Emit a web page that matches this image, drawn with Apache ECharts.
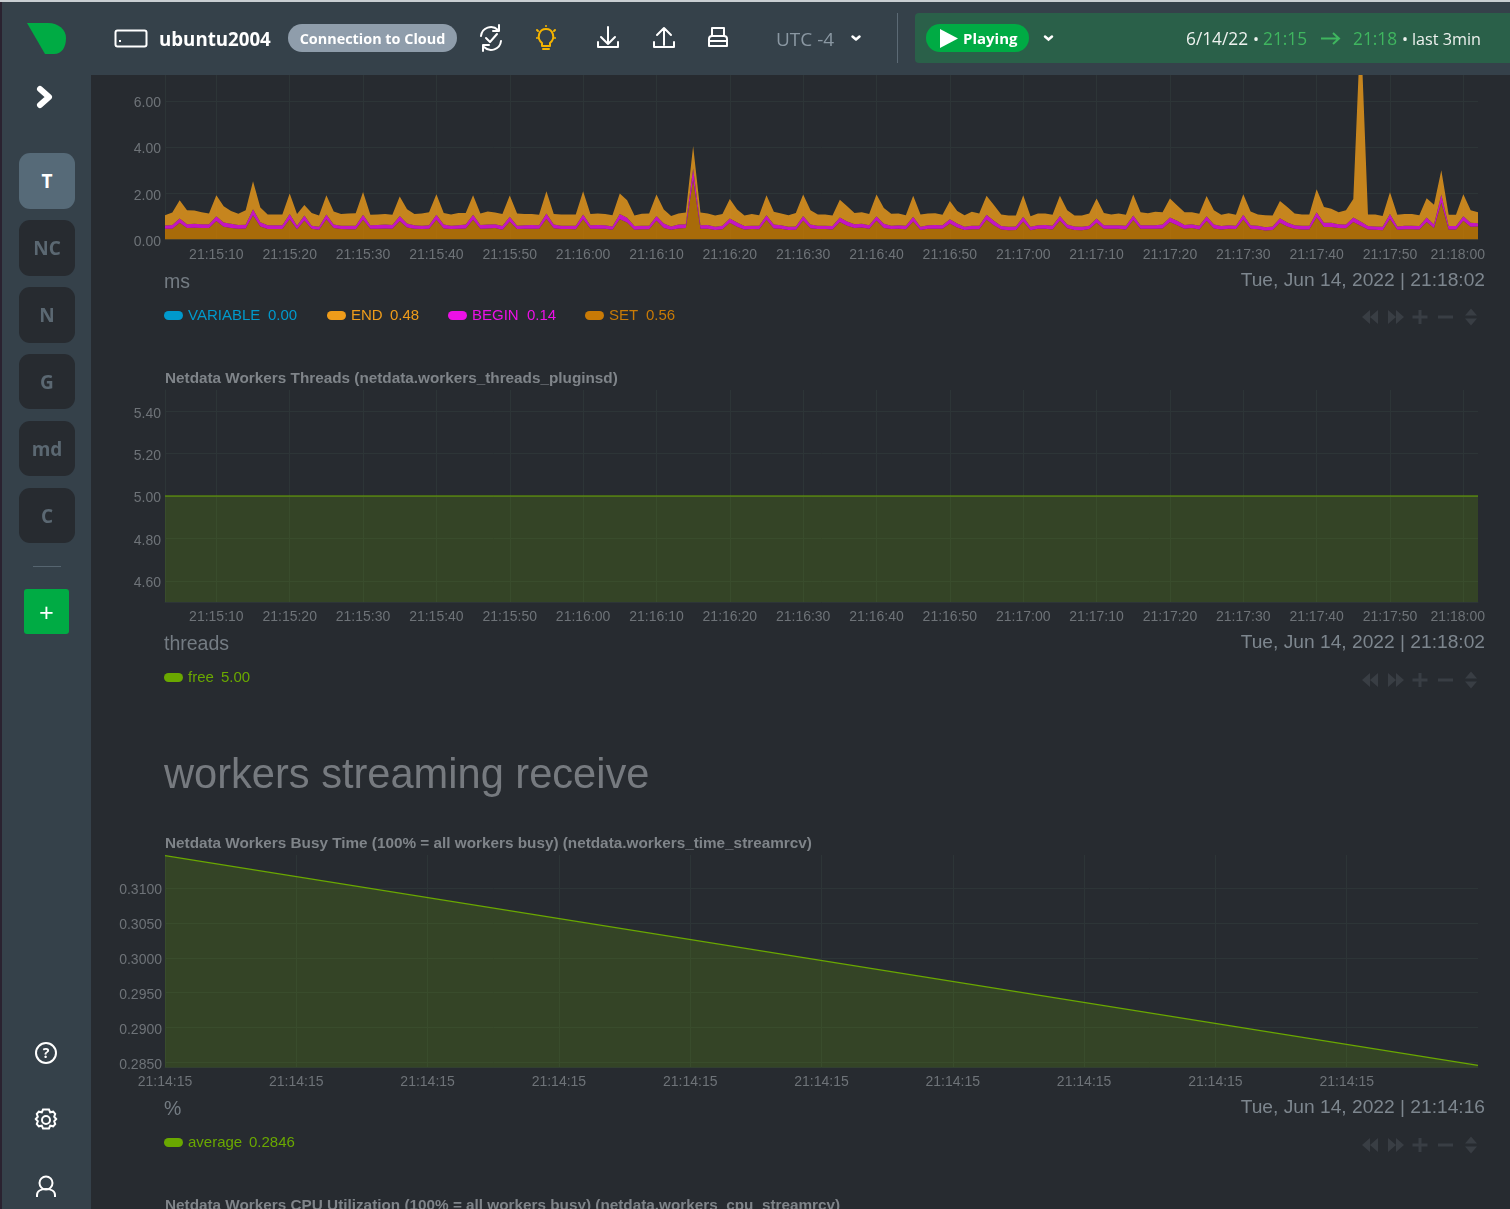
<!DOCTYPE html>
<html>
<head>
<meta charset="utf-8">
<title>ubuntu2004</title>
<script src="https://cdn.jsdelivr.net/npm/echarts@6/dist/echarts.min.js"></script>
<style>
html, body { margin: 0; padding: 0; width: 1510px; height: 1209px; overflow: hidden; background: #272b30; font-family: "Liberation Sans", Arial, sans-serif; }
.abs { position: absolute; white-space: nowrap; }
#chart { position: absolute; left: 0; top: 0; width: 1510px; height: 1209px; }
#header { position: absolute; left: 0; top: 0; width: 1510px; height: 75px; background: #35414a; }
#sidebar { position: absolute; left: 0; top: 0; width: 91px; height: 1209px; background: #35414a; }
#edge { position: absolute; left: 0; top: 0; width: 2px; height: 1209px; background: #2a2230; }
#topline { position: absolute; left: 0; top: 0; width: 1510px; height: 2px; background: #c9ced2; }
.ui { font-family: "Open Sans", "Noto Sans", sans-serif; }
.navbtn { position: absolute; left: 19px; width: 56px; height: 55px; border-radius: 11px; background: #272b30; color: #5b6872; font: bold 19px/57px "Open Sans", sans-serif; text-align: center; }
.title { position: absolute; left: 165px; font: bold 15.3px/20px "Liberation Sans", sans-serif; color: #7f8489; white-space: nowrap; }
.unit { position: absolute; left: 164px; font: 19.5px/24px "Liberation Sans", sans-serif; color: #747c83; }
.when { position: absolute; right: 25px; font: 19.2px/24px "Liberation Sans", sans-serif; color: #7d868e; white-space: nowrap; }
.legend { position: absolute; left: 164px; height: 20px; font: 15px/20px "Liberation Sans", sans-serif; white-space: nowrap; }
.legend i { position: absolute; top: 6px; width: 19px; height: 9px; border-radius: 5px; }
.legend span { position: absolute; top: 0; }
svg { position: absolute; overflow: visible; }
</style>
</head>
<body>
<div id="chart"></div>

<div class="title" style="top:368px">Netdata Workers Threads (netdata.workers_threads_pluginsd)</div>
<div class="title" style="top:833px">Netdata Workers Busy Time (100% = all workers busy) (netdata.workers_time_streamrcv)</div>
<div class="title" style="top:1195px">Netdata Workers CPU Utilization (100% = all workers busy) (netdata.workers_cpu_streamrcv)</div>
<div class="abs" style="left:164px;top:748px;font-size:41.6px;line-height:52px;color:#767a7f">workers streaming receive</div>

<div class="unit" style="top:269px">ms</div>
<div class="unit" style="top:631px">threads</div>
<div class="unit" style="top:1096px">%</div>
<div class="when" style="top:268px">Tue, Jun 14, 2022 | 21:18:02</div>
<div class="when" style="top:630px">Tue, Jun 14, 2022 | 21:18:02</div>
<div class="when" style="top:1095px">Tue, Jun 14, 2022 | 21:14:16</div>
<div id="legends"></div>
<div id="controls"></div>

<div id="header"></div>
<div id="sidebar"></div>
<div id="edge"></div>
<div id="topline"></div>

<!-- logo + sidebar -->
<svg style="left:0;top:0" width="1" height="1">
  <path d="M27 23 H48 C59 23 66 30 66 38 C66 47 62 54 54 54 H45 Z" fill="#00ab44"/>
  <polyline points="40,89 49,97 40,105" fill="none" stroke="#fff" stroke-width="6" stroke-linejoin="round" stroke-linecap="round"/>
  <line x1="33" y1="566.5" x2="61" y2="566.5" stroke="#566570"/>
  <g fill="none" stroke="#fff" stroke-width="2">
    <circle cx="46" cy="1053" r="10"/>
    <circle cx="46" cy="1120" r="4"/>
    <path d="M46 1109.5 l3 0 l1.2 2.8 l3 -.6 l2 2.2 l-1 2.8 l2 2.3 l-2 2.3 l1 2.8 l-2 2.2 l-3 -.6 l-1.2 2.8 h-6 l-1.2 -2.8 l-3 .6 l-2 -2.2 l1 -2.8 l-2 -2.3 l2 -2.3 l-1 -2.8 l2 -2.2 l3 .6 l1.2 -2.8 z"/>
    <circle cx="46" cy="1183" r="6.5"/>
    <path d="M37 1197 v-2 c0 -4 4 -6 9 -6 s9 2 9 6 v2"/>
  </g>
  <text x="46" y="1058" text-anchor="middle" fill="#fff" font-family="Open Sans" font-weight="700" font-size="14">?</text>
</svg>
<div class="navbtn" style="top:153px;height:56px;line-height:56px;background:#566a78;color:#fff">T</div>
<div class="navbtn" style="top:220px;height:56px;line-height:56px">NC</div>
<div class="navbtn" style="top:287px;height:56px;line-height:56px">N</div>
<div class="navbtn" style="top:354px">G</div>
<div class="navbtn" style="top:421px">md</div>
<div class="navbtn" style="top:488px">C</div>
<div class="abs" style="left:24px;top:589px;width:45px;height:45px;border-radius:3px;background:#00ab44;color:#fff;font:26px/46px 'Open Sans',sans-serif;text-align:center">+</div>

<!-- top bar -->
<svg style="left:0;top:0" width="1" height="1">
  <rect x="115.5" y="30.5" width="31" height="16" rx="2" fill="none" stroke="#fff" stroke-width="2"/>
  <rect x="119" y="40" width="2" height="2" fill="#fff"/>
  <g fill="none" stroke="#fff" stroke-width="2" stroke-linecap="round" stroke-linejoin="round">
    <path d="M481 36 a10 10 0 0 1 17 -6 M501 41 a10 10 0 0 1 -17 6"/>
    <path d="M499 25 v6 h-6 M483 51 v-6 h6"/>
    <path d="M486 38 l4 4 l7 -8"/>
    <path d="M608 27 v17 M601 37 l7 7 l7 -7 M598 42 v5 h20 v-5"/>
    <path d="M664 45 v-17 M657 35 l7 -7 l7 7 M654 42 v5 h20 v-5"/>
    <path d="M712 36 v-8 h12 v8 M709 46 v-7 a3 3 0 0 1 3 -3 h12 a3 3 0 0 1 3 3 v7 h-18 M709 41 h18"/>
    <path d="M852.500 36.500 l3.500 3 l3.500 -3" stroke-width="2.500"/>
  </g>
  <g fill="none" stroke="#f5b400" stroke-width="2" stroke-linecap="round" stroke-linejoin="round">
    <path d="M542 43 c-6 -5 -3 -14 4 -14 s10 9 4 14 v3 h-8 z M543 49 h6"/>
    <path d="M537 30 l1 1 M555 30 l-1 1 M546 26 v0 M537 38 h0 M555 38 h0"/>
  </g>
  <line x1="897.5" y1="13" x2="897.5" y2="63" stroke="#5c6a75"/>
</svg>
<div class="abs ui" style="left:159px;top:25px;font-size:18.7px;line-height:28px;font-weight:700;color:#fff">ubuntu2004</div>
<div class="abs" style="left:288px;top:24px;width:169px;height:28px;border-radius:14px;background:#8f9dab"></div>
<div class="abs ui" style="left:288px;top:25px;width:169px;height:28px;color:#fff;font-size:14.4px;line-height:28px;font-weight:700;text-align:center">Connection to Cloud</div>
<div class="abs ui" style="left:776px;top:26px;font-size:19px;line-height:26px;color:#8a97a2">UTC -4</div>
<div class="abs" style="left:915px;top:13px;width:595px;height:50px;border-radius:4px 0 0 4px;background:#2a6049"></div>
<div class="abs" style="left:926px;top:24px;width:103px;height:28px;border-radius:14px;background:#00ab44"></div>
<svg style="left:0;top:0;z-index:2" width="1" height="1">
  <polygon points="940,29 958,38.500 940,48" fill="#fff"/>
  <path d="M1045 36.500 l3.500 3 l3.500 -3" fill="none" stroke="#fff" stroke-width="2.500" stroke-linecap="round"/>
  <path d="M1321 38.500 h18 M1333 33 l6 5.500 l-6 5.500" fill="none" stroke="#3fb65f" stroke-width="2"/>
</svg>
<div class="abs ui" style="left:963px;top:24px;font-size:15px;line-height:28px;font-weight:700;color:#fff">Playing</div>
<div class="abs ui" style="left:1186px;top:26px;font-size:17.3px;line-height:26px;color:#eef2ef">6/14/22</div>
<div class="abs ui" style="left:1253px;top:26px;font-size:16px;line-height:26px;color:#eef2ef">•</div>
<div class="abs ui" style="left:1263px;top:26px;font-size:17.3px;line-height:26px;color:#3fb65f">21:15</div>
<div class="abs ui" style="left:1353px;top:26px;font-size:17.3px;line-height:26px;color:#3fb65f">21:18</div>
<div class="abs ui" style="left:1402px;top:26px;font-size:16px;line-height:26px;color:#eef2ef">•</div>
<div class="abs ui" style="left:1412px;top:26px;font-size:16.2px;line-height:26px;color:#eef2ef">last 3min</div>

<script>
// ms chart, one point per second from 21:15:03
const setValues = [
    .46,.47,.72,.50,.51,.50,.50,.80,.55,.50,.47,.48,1.05,.56,.45,.45,.45,.88,.44,.82,
    .47,.42,.88,.50,.45,.44,.44,.85,.46,.47,.48,.47,.80,.52,.46,.45,.46,.86,.48,.45,
    .46,.48,.86,.47,.48,.50,.42,.78,.45,.46,.47,.46,.90,.49,.45,.45,.44,.88,.47,.47,
    .46,.42,.88,.74,.42,.44,.44,.82,.50,.42,.48,.50,2.60,.46,.47,.41,.44,.72,.55,.43,
    .45,.44,.85,.48,.46,.41,.42,.82,.49,.45,.45,.43,.76,.60,.50,.52,.46,.82,.50,.45,
    .46,.44,.78,.41,.46,.47,.46,.69,.52,.41,.44,.44,.86,.62,.43,.40,.41,.78,.40,.46,
    .47,.43,.82,.49,.41,.40,.45,.72,.46,.46,.46,.43,.84,.46,.46,.46,.48,.76,.62,.47,
    .50,.43,.81,.48,.43,.46,.45,.87,.46,.44,.39,.41,.73,.56,.47,.43,.43,.96,.54,.54,
    .50,.49,.76,.60,.43,.42,.40,.89,.42,.44,.44,.43,.76,.50,1.60,.43,.43,.81,.55,.56
];
const beginValues = [
    .15,.16,.19,.16,.17,.16,.16,.21,.19,.18,.16,.16,.26,.19,.17,.17,.17,.22,.16,.22,
    .13,.13,.20,.15,.15,.15,.15,.22,.16,.16,.17,.16,.22,.17,.16,.15,.16,.21,.17,.15,
    .16,.17,.21,.16,.17,.16,.16,.20,.15,.16,.16,.16,.22,.16,.15,.15,.16,.20,.15,.16,
    .16,.14,.22,.20,.16,.15,.16,.20,.19,.14,.17,.16,.47,.16,.16,.14,.15,.19,.19,.15,
    .15,.15,.20,.17,.16,.14,.14,.20,.16,.15,.15,.15,.19,.18,.16,.16,.16,.19,.18,.15,
    .16,.16,.20,.14,.16,.16,.16,.19,.17,.14,.15,.16,.21,.19,.15,.15,.15,.20,.15,.16,
    .16,.16,.20,.16,.15,.15,.15,.19,.16,.16,.16,.16,.20,.16,.16,.16,.17,.19,.19,.16,
    .16,.16,.20,.17,.15,.16,.15,.20,.16,.15,.14,.15,.19,.18,.15,.16,.16,.22,.18,.18,
    .16,.16,.19,.18,.15,.14,.15,.21,.14,.15,.15,.15,.19,.15,.35,.15,.15,.20,.17,.14
];
const endValues = [
    .44,.54,.79,.61,.57,.52,.47,.91,.70,.55,.48,.63,1.21,.64,.46,.46,.46,.89,.50,.45,
    .55,.49,.84,.56,.50,.54,.55,.99,.45,.45,.45,.44,.84,.62,.48,.53,.56,.89,.50,.48,
    .53,.50,.85,.50,.56,.51,.52,.92,.53,.48,.47,.45,.97,.45,.48,.48,.48,1.01,.48,.50,
    .48,.49,.89,.76,.46,.52,.53,.93,.61,.46,.48,.51,.98,.55,.50,.49,.51,.84,.56,.46,
    .50,.46,.87,.55,.51,.50,.59,.93,.62,.48,.48,.46,.77,.66,.49,.50,.48,.94,.68,.51,
    .51,.45,.91,.53,.51,.51,.45,.79,.54,.50,.61,.53,.82,.68,.50,.49,.48,.94,.46,.51,
    .50,.48,.87,.62,.48,.49,.53,.86,.53,.46,.51,.48,.91,.56,.52,.58,.53,.82,.66,.55,
    .52,.52,.87,.62,.49,.52,.47,.89,.59,.49,.52,.48,.75,.67,.51,.49,.49,1.00,.69,.61,
    .52,.62,.80,8.52,.50,.52,.47,.95,.51,.51,.51,.47,.84,.85,1.05,.49,.49,.95,.55,.48
];
const variableValues = [
    0,0,0,0,0,0,0,0,0,0,0,0,0,0,0,0,0,0,0,0,0,0,0,0,0,0,0,0,0,0,0,0,0,0,0,0,0,0,0,0,
    0,0,0,0,0,0,0,0,0,0,0,0,0,0,0,0,0,0,0,0,0,0,0,0,0,0,0,0,0,0,0,0,0,0,0,0,0,0,0,0,
    0,0,0,0,0,0,0,0,0,0,0,0,0,0,0,0,0,0,0,0,0,0,0,0,0,0,0,0,0,0,0,0,0,0,0,0,0,0,0,0,
    0,0,0,0,0,0,0,0,0,0,0,0,0,0,0,0,0,0,0,0,0,0,0,0,0,0,0,0,0,0,0,0,0,0,0,0,0,0,0,0,
    0,0,0,0,0,0,0,0,0,0,0,0,0,0,0,0,0,0,0,0
];

const timeTicks = ['21:15:10','21:15:20','21:15:30','21:15:40','21:15:50','21:16:00','21:16:10','21:16:20','21:16:30',
    '21:16:40','21:16:50','21:17:00','21:17:10','21:17:20','21:17:30','21:17:40','21:17:50','21:18:00'];
const msTicks = [0, 2, 4, 6];

// threads chart
const freeThreads = [5.00, 5.00];
const threadTicks = [4.6, 4.8, 5.0, 5.2, 5.4];

// busy time chart: two samples a second apart
const busyAverage = [0.3146, 0.2846];
const busyTicks = [0.285, 0.29, 0.295, 0.30, 0.305, 0.31];
const busyTimeOffsets = [0, 100, 200, 300, 400, 500, 600, 700, 800, 900];

const msLegend = [
    { name: 'VARIABLE', value: '0.00', color: '#0099cc', chip: 0, text: 24, val: 104 },
    { name: 'END', value: '0.48', color: '#ef9c1a', chip: 163, text: 187, val: 226 },
    { name: 'BEGIN', value: '0.14', color: '#ec10e6', chip: 284, text: 308, val: 363 },
    { name: 'SET', value: '0.56', color: '#c87a06', chip: 421, text: 445, val: 482 }
];
const threadLegend = [{ name: 'free', value: '5.00', color: '#6aa800', chip: 0, text: 24, val: 57 }];
const busyLegend = [{ name: 'average', value: '0.2846', color: '#6aa800', chip: 0, text: 24, val: 85 }];

const GRID_COLOR = '#2d3537';
const LABEL_COLOR = '#6e7378';
const LABEL_FONT = { color: LABEL_COLOR, fontFamily: 'Liberation Sans', fontSize: 14 };

function at(text) {
    const [h, m, s] = text.split(':').map(Number);
    return Date.UTC(2022, 5, 14, h, m, s);
}

function hms(v) {
    return echarts.time.format(v, '{HH}:{mm}:{ss}', true);
}

function series(name, values, color, opacity) {
    return {
        name: name,
        type: 'line',
        xAxisIndex: 0,
        yAxisIndex: 0,
        stack: 'ms',
        showSymbol: false,
        animation: false,
        lineStyle: { width: 0 },
        itemStyle: { color: color },
        areaStyle: { color: color, opacity: opacity },
        data: values
    };
}

function axisLabelOf(rest) {
    return Object.assign({}, LABEL_FONT, { hideOverlap: false }, rest);
}

// the stacked chart needs a category x, the stack would sum x on a value axis
function categoryAxis(gridIndex, names, ticks, margin) {
    const onTick = (i, name) => ticks.includes(name);
    const last = ticks[ticks.length - 1];
    return {
        type: 'category',
        gridIndex: gridIndex,
        boundaryGap: false,
        data: names,
        axisLine: { show: true, onZero: false, lineStyle: { color: GRID_COLOR } },
        axisTick: { show: false, interval: onTick },
        splitLine: { show: true, interval: onTick, lineStyle: { color: GRID_COLOR } },
        axisLabel: axisLabelOf({
            interval: onTick,
            margin: margin,
            formatter: v => (v === last ? '{last|' + v + '}' : v),
            rich: { last: Object.assign({ padding: [0, 11, 0, 0] }, LABEL_FONT) }
        })
    };
}

// x values are epoch ms on a value axis, custom ticks keep them on the 10s marks
function xAxis(gridIndex, min, max, ticks, last, margin) {
    return {
        type: 'value',
        gridIndex: gridIndex,
        min: min,
        max: max,
        axisLine: { show: true, onZero: false, lineStyle: { color: GRID_COLOR } },
        axisTick: { show: false, customValues: ticks },
        splitLine: { show: true, lineStyle: { color: GRID_COLOR } },
        axisLabel: axisLabelOf({
            customValues: ticks,
            margin: margin,
            formatter: v => (v === last ? '{last|' + hms(v) + '}' : hms(v)),
            rich: { last: Object.assign({ padding: [0, 11, 0, 0] }, LABEL_FONT) }
        })
    };
}

function yAxis(gridIndex, min, max, ticks, digits, margin) {
    return {
        type: 'value',
        gridIndex: gridIndex,
        min: min,
        max: max,
        axisLine: { show: true, onZero: false, lineStyle: { color: GRID_COLOR } },
        axisTick: { show: false, customValues: ticks },
        splitLine: { show: true, lineStyle: { color: GRID_COLOR } },
        axisLabel: axisLabelOf({
            customValues: ticks,
            margin: margin,
            formatter: v => '{v|' + v.toFixed(digits) + '}',
            rich: { v: Object.assign({ padding: [5, 0, 0, 0] }, LABEL_FONT) }
        })
    };
}

const msStart = at('21:15:03');
const msEnd = at('21:18:02');
const busyStart = at('21:14:15');
const tickMs = timeTicks.map(at);
const busyTickMs = busyTimeOffsets.map(o => busyStart + o);
const msCategories = setValues.map((v, i) => hms(msStart + i * 1000));

const chart = echarts.init(document.getElementById('chart'));
chart.setOption({
    backgroundColor: 'transparent',
    animation: false,
    grid: [
        { left: 165, top: 75, width: 1313, height: 164.5 },
        { left: 165, top: 390, width: 1313, height: 212 },
        { left: 165, top: 855, width: 1313, height: 212.5 }
    ],
    xAxis: [
        categoryAxis(0, msCategories, timeTicks, 9),
        xAxis(1, msStart, msEnd, tickMs, at('21:18:00'), 8),
        xAxis(2, busyStart, busyStart + 1000, busyTickMs, null, 8)
    ],
    yAxis: [
        yAxis(0, 0, 7.12, msTicks, 2, 4),
        yAxis(1, 4.5, 5.5, threadTicks, 2, 4),
        yAxis(2, 0.2843, 0.3147, busyTicks, 4, 3)
    ],
    series: [
        series('VARIABLE', variableValues, '#0099cc', 0.8),
        series('SET', setValues, '#c97c00', 0.8),
        series('BEGIN', beginValues, '#ec10e6', 0.8),
        series('END', endValues, '#ef9c1a', 0.8),
        {
            name: 'free', type: 'line', xAxisIndex: 1, yAxisIndex: 1, showSymbol: false, animation: false,
            lineStyle: { width: 1.2, color: '#6aa800' },
            areaStyle: { color: '#6aa800', opacity: 0.2, origin: 'start' },
            data: [[msStart, freeThreads[0]], [msEnd, freeThreads[1]]]
        },
        {
            name: 'average', type: 'line', xAxisIndex: 2, yAxisIndex: 2, showSymbol: false, animation: false,
            lineStyle: { width: 1.2, color: '#6aa800' },
            areaStyle: { color: '#6aa800', opacity: 0.2, origin: 'start' },
            data: [[busyStart, busyAverage[0]], [busyStart + 1000, busyAverage[1]]]
        }
    ]
});

// dimension legends under each chart
function drawLegend(items, top) {
    const row = document.createElement('div');
    row.className = 'legend';
    row.style.top = top + 'px';
    items.forEach(item => {
        row.innerHTML +=
            `<i style="left:${item.chip}px;background:${item.color}"></i>` +
            `<span style="left:${item.text}px;color:${item.color}">${item.name}</span>` +
            `<span style="left:${item.val}px;color:${item.color}">${item.value}</span>`;
    });
    document.getElementById('legends').appendChild(row);
}
drawLegend(msLegend, 305);
drawLegend(threadLegend, 667);
drawLegend(busyLegend, 1132);

// the little pan / zoom buttons, dimmed
function drawControls(cy) {
    const ns = `<svg style="left:0;top:0" width="1" height="1"><g fill="#393e44" transform="translate(0 ${cy})">
        <path d="M1362 0 l8 -7 v14 z M1370 0 l8 -7 v14 z"/>
        <path d="M1404 0 l-8 -7 v14 z M1396 0 l-8 -7 v14 z"/>
        <path d="M1418.500 -7 h3 v5.500 h6 v3 h-6 v5.500 h-3 v-5.500 h-6 v-3 h6 z"/>
        <rect x="1438" y="-1.500" width="15" height="3"/>
        <path d="M1465 -1.500 l6 -7 l6 7 z M1465 1.500 l6 7 l6 -7 z"/>
    </g></svg>`;
    document.getElementById('controls').innerHTML += ns;
}
drawControls(317);
drawControls(680);
drawControls(1145);
</script>
</body>
</html>
